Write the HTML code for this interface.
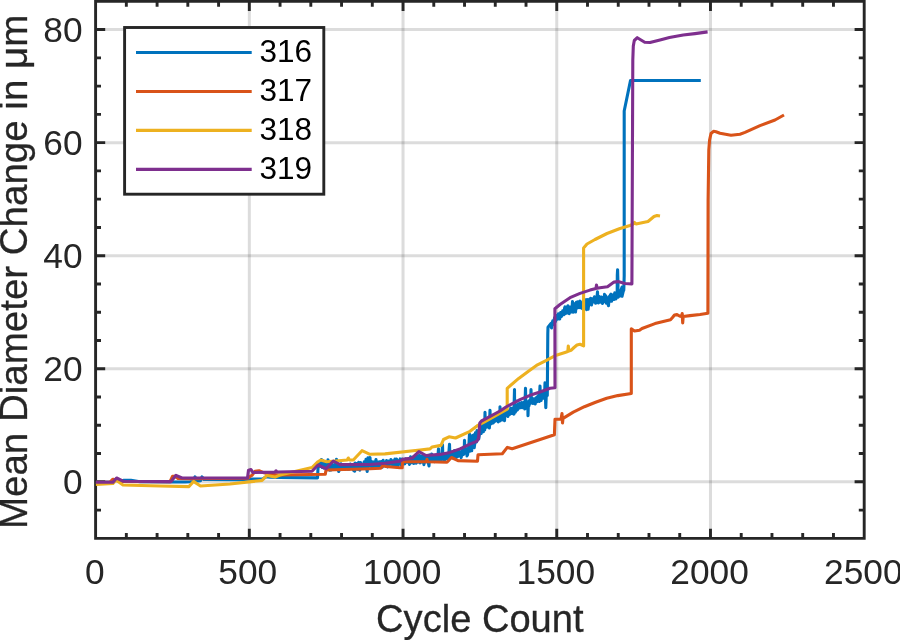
<!DOCTYPE html><html><head><meta charset="utf-8"><style>html,body{margin:0;padding:0;background:#fff;overflow:hidden}svg{display:block}</style></head><body><svg width="900" height="640" viewBox="0 0 900 640">
<rect width="900" height="640" fill="#fff"/>
<path d="M249.32 1.30V538.35M403.04 1.30V538.35M556.76 1.30V538.35M710.48 1.30V538.35" stroke="#262626" stroke-opacity="0.16" stroke-width="3.0" fill="none"/>
<path d="M95.60 481.82H864.20M95.60 368.76H864.20M95.60 255.69H864.20M95.60 142.63H864.20M95.60 29.57H864.20" stroke="#262626" stroke-opacity="0.16" stroke-width="3.0" fill="none"/>
<path d="M95.60 1.30H864.20V538.35H95.60Z" stroke="#262626" stroke-width="2.9" fill="none" stroke-linecap="square"/>
<path d="M126.34 538.35v-5.4M126.34 1.30v5.4M157.09 538.35v-5.4M157.09 1.30v5.4M187.83 538.35v-5.4M187.83 1.30v5.4M218.58 538.35v-5.4M218.58 1.30v5.4M249.32 538.35v-9.6M249.32 1.30v9.6M280.06 538.35v-5.4M280.06 1.30v5.4M310.81 538.35v-5.4M310.81 1.30v5.4M341.55 538.35v-5.4M341.55 1.30v5.4M372.30 538.35v-5.4M372.30 1.30v5.4M403.04 538.35v-9.6M403.04 1.30v9.6M433.78 538.35v-5.4M433.78 1.30v5.4M464.53 538.35v-5.4M464.53 1.30v5.4M495.27 538.35v-5.4M495.27 1.30v5.4M526.02 538.35v-5.4M526.02 1.30v5.4M556.76 538.35v-9.6M556.76 1.30v9.6M587.50 538.35v-5.4M587.50 1.30v5.4M618.25 538.35v-5.4M618.25 1.30v5.4M648.99 538.35v-5.4M648.99 1.30v5.4M679.74 538.35v-5.4M679.74 1.30v5.4M710.48 538.35v-9.6M710.48 1.30v9.6M741.22 538.35v-5.4M741.22 1.30v5.4M771.97 538.35v-5.4M771.97 1.30v5.4M802.71 538.35v-5.4M802.71 1.30v5.4M833.46 538.35v-5.4M833.46 1.30v5.4M95.60 510.08h5.4M864.20 510.08h-5.4M95.60 481.82h9.6M864.20 481.82h-9.6M95.60 453.55h5.4M864.20 453.55h-5.4M95.60 425.29h5.4M864.20 425.29h-5.4M95.60 397.02h5.4M864.20 397.02h-5.4M95.60 368.76h9.6M864.20 368.76h-9.6M95.60 340.49h5.4M864.20 340.49h-5.4M95.60 312.22h5.4M864.20 312.22h-5.4M95.60 283.96h5.4M864.20 283.96h-5.4M95.60 255.69h9.6M864.20 255.69h-9.6M95.60 227.43h5.4M864.20 227.43h-5.4M95.60 199.16h5.4M864.20 199.16h-5.4M95.60 170.89h5.4M864.20 170.89h-5.4M95.60 142.63h9.6M864.20 142.63h-9.6M95.60 114.36h5.4M864.20 114.36h-5.4M95.60 86.10h5.4M864.20 86.10h-5.4M95.60 57.83h5.4M864.20 57.83h-5.4M95.60 29.57h9.6M864.20 29.57h-9.6" stroke="#262626" stroke-width="2.9" fill="none" stroke-linecap="butt"/>
<g clip-path="url(#c)">
<polyline points="95.7,482.3 112.0,482.3 115.0,480.0 122.0,481.0 124.0,480.2 131.0,480.4 140.0,481.7 172.0,482.0 185.0,482.0 190.0,481.8 193.0,481.5 195.0,476.9 196.5,481.0 200.5,480.6 202.0,476.9 204.0,479.5 240.0,479.8 248.0,479.2 252.0,479.0 263.0,478.8 266.0,476.7 270.0,477.2 280.0,477.5 317.5,477.9 318.0,468.4 319.0,462.6 319.4,465.6 319.3,462.9 320.4,466.3 321.5,459.5 322.2,467.5 322.8,460.6 323.9,468.1 324.6,462.1 325.3,467.2 326.3,463.0 327.4,469.0 328.0,459.9 328.4,466.9 328.4,464.8 329.8,470.2 330.6,465.0 331.3,470.0 332.6,464.6 333.8,467.8 335.2,464.4 336.1,468.1 336.5,459.2 336.9,466.2 337.3,464.3 338.7,471.5 339.4,465.8 340.1,469.7 340.9,463.8 342.0,468.3 342.7,465.1 344.0,468.8 344.8,464.7 345.0,469.4 345.4,466.4 345.9,468.2 346.6,465.1 347.5,469.3 348.6,465.1 349.5,469.1 350.4,464.0 351.2,468.2 352.4,464.9 353.6,470.5 354.7,471.2 355.1,466.7 355.0,463.0 355.9,468.9 356.7,463.5 358.0,469.3 358.7,462.2 359.8,470.1 360.6,462.6 361.2,468.1 361.9,464.7 362.9,467.4 364.2,461.8 365.4,468.3 366.0,459.4 366.4,466.4 366.0,464.4 367.2,471.5 368.0,457.7 368.4,466.7 368.2,461.9 369.6,466.1 370.0,457.6 370.4,463.6 370.7,461.1 371.9,468.1 372.8,461.7 374.1,466.9 375.4,461.9 376.0,459.6 376.4,464.6 376.3,467.4 377.0,461.7 378.3,467.7 379.4,461.8 380.7,465.7 381.3,461.5 382.1,467.3 383.2,460.3 383.8,465.9 384.6,462.4 385.7,466.1 386.6,460.6 387.5,466.9 388.8,461.2 389.7,464.6 390.9,459.5 392.3,464.7 393.3,460.9 394.2,465.5 395.0,459.0 396.0,464.5 396.6,459.1 397.5,466.6 398.5,460.9 399.2,464.2 400.2,458.9 401.4,465.5 402.2,459.1 402.8,463.9 403.6,459.6 404.7,463.8 405.9,458.9 407.2,462.2 408.4,459.4 409.5,464.4 410.6,456.9 411.9,462.8 412.7,457.2 413.8,463.4 415.1,456.1 416.2,463.3 417.5,456.2 418.2,462.0 419.4,455.4 420.0,462.9 420.9,456.1 421.6,462.0 422.9,456.3 423.9,464.6 424.9,457.4 426.0,461.8 427.1,457.2 428.3,462.8 429.0,465.9 429.4,458.9 429.6,455.1 430.7,460.6 431.7,454.0 432.7,461.2 433.7,456.5 434.4,461.6 435.8,455.2 436.7,460.4 438.0,455.3 438.5,448.9 438.9,457.9 438.8,460.6 440.2,457.6 440.8,460.3 441.9,456.4 442.5,444.9 442.9,457.9 443.0,459.4 443.7,455.3 444.5,460.2 445.4,455.1 446.1,458.8 447.2,454.2 448.3,460.1 449.5,444.4 449.9,456.4 449.5,452.7 450.4,457.8 451.1,451.7 451.9,457.2 452.7,453.9 453.6,458.3 454.5,450.5 455.7,458.0 456.4,451.6 457.4,456.8 458.0,451.5 459.0,456.0 459.8,451.5 461.2,457.6 462.5,450.0 463.4,454.6 464.3,447.3 464.5,440.2 464.9,450.2 465.6,453.1 466.8,448.8 467.0,455.9 467.4,451.9 467.5,455.0 468.8,446.6 469.5,434.0 469.9,449.0 469.9,451.3 470.9,444.0 471.0,439.4 471.4,447.4 471.7,450.8 472.5,435.5 472.9,446.5 472.9,442.2 474.0,434.9 474.4,444.9 474.2,447.7 475.4,439.4 475.5,432.6 475.9,440.6 476.6,441.8 477.0,430.6 477.4,439.6 477.6,437.4 478.7,438.9 480.1,430.1 481.2,433.5 482.0,423.7 482.4,429.7 482.1,425.8 483.3,431.8 483.9,425.0 484.7,430.0 485.0,412.4 485.4,427.4 485.6,424.7 486.9,427.2 488.3,420.7 489.4,427.9 490.0,410.2 490.4,424.2 490.6,420.6 491.3,423.7 492.3,415.8 493.3,422.9 494.2,418.1 495.2,421.2 496.0,417.9 496.7,420.1 497.6,414.5 498.2,421.9 498.9,413.8 499.9,421.0 500.0,406.8 500.4,416.8 500.9,412.7 501.9,419.9 502.9,414.0 503.9,417.3 504.5,420.7 504.9,414.7 504.6,412.1 505.6,415.7 506.5,410.1 507.9,416.5 508.7,410.9 509.9,414.4 510.7,408.1 511.8,413.5 512.6,408.4 513.9,414.1 514.5,389.5 514.6,408.0 515.0,400.0 514.9,410.5 514.7,406.8 515.4,412.1 516.5,405.4 517.4,410.1 518.3,403.9 519.0,408.2 520.1,403.0 521.0,407.7 521.9,402.6 522.8,407.8 524.1,402.3 524.8,409.0 525.5,388.2 525.9,405.2 525.8,401.5 526.7,408.1 527.8,401.9 528.0,415.8 528.4,403.8 529.0,405.7 529.7,400.2 530.6,403.3 531.0,389.6 531.4,400.6 531.6,397.8 533.0,403.4 533.8,398.8 535.2,403.9 536.1,397.8 537.0,401.7 538.0,395.8 539.3,401.4 540.0,386.0 540.4,398.0 540.5,394.6 541.1,400.5 542.2,393.6 543.4,398.2 544.6,394.5 545.0,382.9 545.4,395.9 545.8,407.6 546.2,396.6 546.0,397.3 546.7,392.5 547.3,395.5 547.8,333.5 548.0,327.2 551.0,323.5 551.5,327.9 552.8,320.7 553.8,324.3 554.5,317.8 555.5,321.6 556.4,315.6 557.3,319.2 558.4,313.8 559.7,319.0 560.6,312.6 561.5,316.5 562.7,310.7 563.8,314.7 564.6,308.1 565.0,306.9 565.4,310.9 565.3,313.8 566.4,307.0 567.3,312.9 568.0,305.9 568.4,309.9 568.5,306.9 569.2,313.6 570.5,307.1 571.8,312.0 572.5,301.6 573.1,312.3 574.5,303.8 575.5,312.0 576.4,302.3 577.2,308.0 577.9,301.7 578.7,307.4 579.4,302.4 580.0,301.1 580.4,305.1 580.2,307.8 581.2,302.5 582.5,308.8 583.4,300.6 584.5,306.0 585.4,299.7 586.5,309.6 587.3,299.5 588.1,309.3 589.2,299.7 590.0,298.9 590.4,301.9 590.1,304.0 590.7,298.4 591.5,305.0 592.6,298.8 593.5,302.0 594.5,296.8 595.6,303.3 596.9,298.6 597.5,291.8 597.9,300.8 598.2,302.9 599.3,296.5 600.2,302.1 601.5,297.1 602.5,303.4 603.5,297.3 604.2,301.5 604.5,294.4 604.9,298.4 605.5,295.4 606.2,303.1 607.5,298.1 608.3,305.0 608.5,305.7 608.9,300.7 608.9,296.5 609.8,301.3 610.4,295.0 611.0,294.2 611.4,298.2 611.6,301.3 612.7,295.1 614.0,299.5 614.8,292.7 615.9,299.0 617.2,291.6 617.3,275.4 617.6,269.9 618.0,284.9 617.7,294.4 618.0,297.2 618.8,291.1 619.9,296.1 620.9,290.1 622.0,287.2 622.4,293.2 622.0,296.3 623.2,291.3 623.8,290.0 624.2,276.0 624.2,111.0 630.5,80.5 700.8,80.5" fill="none" stroke="#0072bd" stroke-width="3.1" stroke-linejoin="round" stroke-linecap="butt"/>
<polyline points="95.7,482.2 110.0,482.2 113.0,479.2 116.0,480.5 120.0,481.5 170.0,481.6 172.5,476.3 175.0,476.2 178.0,478.5 190.0,478.7 248.0,478.3 250.0,476.3 252.0,475.4 255.0,471.3 259.0,470.8 263.0,472.5 270.0,474.2 280.0,475.0 325.3,474.3 326.0,470.0 370.0,468.8 380.6,468.3 383.0,465.5 386.0,466.5 400.0,467.8 402.2,467.8 402.5,461.8 426.5,461.8 427.0,459.3 427.5,461.8 447.0,462.2 451.5,457.5 458.0,460.6 477.5,461.2 478.0,454.8 502.3,453.8 507.3,447.4 512.2,448.8 554.4,434.7 555.0,419.2 561.0,419.2 562.0,413.5 562.5,423.0 563.0,418.3 563.9,417.8 573.3,412.2 584.4,406.7 595.6,402.2 606.7,398.3 617.8,395.6 631.3,393.5 631.3,328.8 634.5,331.0 639.5,330.2 642.0,328.5 655.0,323.6 670.5,319.7 672.5,317.5 674.5,315.0 677.0,314.6 679.5,316.0 681.5,316.6 682.2,313.6 682.7,323.0 683.2,316.5 690.0,315.6 700.0,314.5 707.9,313.3 708.1,200.0 708.8,150.0 709.6,140.0 711.0,133.5 713.5,131.3 716.0,131.8 720.0,133.3 731.0,135.2 740.0,134.2 745.0,132.4 760.0,125.6 775.0,120.0 784.0,115.0" fill="none" stroke="#d95319" stroke-width="3.1" stroke-linejoin="round" stroke-linecap="butt"/>
<polyline points="95.7,484.5 113.0,483.5 116.0,480.0 123.0,485.0 160.0,486.0 189.0,486.6 193.5,481.4 200.5,486.0 230.0,484.0 262.0,480.4 267.0,475.4 275.0,477.1 280.0,475.0 312.0,467.5 318.0,461.7 320.7,460.0 326.7,461.7 347.3,460.0 348.3,458.0 349.5,460.0 353.3,460.0 362.0,450.7 370.0,454.3 385.0,453.9 420.0,450.0 430.0,448.9 432.0,447.0 441.0,445.4 443.5,439.5 449.0,436.8 455.5,438.0 470.0,431.3 477.0,425.9 485.0,421.6 507.2,409.2 507.2,388.3 518.7,378.4 528.1,371.4 537.5,364.8 546.9,360.1 556.2,355.2 565.0,352.5 567.8,351.6 568.3,346.0 568.9,351.0 571.0,350.3 574.0,347.5 577.0,345.0 580.0,344.3 583.6,345.8 583.6,248.0 587.0,244.0 595.0,239.5 607.0,233.5 620.0,228.5 630.0,225.5 633.0,224.2 634.5,222.5 636.0,224.0 648.0,221.5 654.0,216.5 657.0,215.5 660.0,216.0" fill="none" stroke="#edb120" stroke-width="3.1" stroke-linejoin="round" stroke-linecap="butt"/>
<polyline points="95.7,482.3 113.0,482.3 116.6,478.0 123.0,481.2 171.0,481.6 176.0,475.3 182.0,478.0 247.5,478.0 248.5,470.3 251.0,469.6 253.0,472.5 275.0,472.1 276.0,470.8 277.0,472.0 312.0,471.3 318.0,465.0 326.0,468.7 333.3,461.0 340.0,464.6 370.0,464.5 385.0,463.3 400.0,461.3 402.5,459.4 412.2,458.0 418.9,451.7 426.0,455.5 440.0,454.4 450.0,452.4 460.0,448.9 470.0,444.2 477.0,441.1 478.5,438.5 479.8,423.0 481.5,421.0 486.0,418.7 500.0,411.0 506.0,407.0 510.0,404.8 520.0,399.7 530.0,395.3 540.0,392.0 550.0,388.2 555.0,387.8 554.9,308.7 560.0,304.5 570.0,297.7 580.0,293.4 590.0,290.1 596.0,288.5 596.5,285.0 597.0,288.3 600.0,287.7 607.5,286.8 614.0,282.1 618.0,281.6 625.0,283.5 631.9,284.0 632.8,60.0 633.3,46.0 634.3,40.5 637.3,37.7 644.7,42.3 650.0,42.5 660.0,40.0 669.4,37.6 683.2,35.0 695.0,33.6 707.6,31.9" fill="none" stroke="#7e2f8e" stroke-width="3.1" stroke-linejoin="round" stroke-linecap="butt"/>
</g>
<defs><clipPath id="c"><rect x="95.6" y="1.3" width="768.6" height="537.0500000000001"/></clipPath></defs>
<text x="82.6" y="494.02" font-family="&apos;Liberation Sans&apos;, Arial, Helvetica, sans-serif" font-size="35.3" fill="#262626" text-anchor="end">0</text>
<text x="82.6" y="380.96" font-family="&apos;Liberation Sans&apos;, Arial, Helvetica, sans-serif" font-size="35.3" fill="#262626" text-anchor="end">20</text>
<text x="82.6" y="267.89" font-family="&apos;Liberation Sans&apos;, Arial, Helvetica, sans-serif" font-size="35.3" fill="#262626" text-anchor="end">40</text>
<text x="82.6" y="154.83" font-family="&apos;Liberation Sans&apos;, Arial, Helvetica, sans-serif" font-size="35.3" fill="#262626" text-anchor="end">60</text>
<text x="82.6" y="41.77" font-family="&apos;Liberation Sans&apos;, Arial, Helvetica, sans-serif" font-size="35.3" fill="#262626" text-anchor="end">80</text>
<text x="94.70" y="583.9" font-family="&apos;Liberation Sans&apos;, Arial, Helvetica, sans-serif" font-size="35.3" fill="#262626" text-anchor="middle">0</text>
<text x="247.72" y="583.9" font-family="&apos;Liberation Sans&apos;, Arial, Helvetica, sans-serif" font-size="35.3" fill="#262626" text-anchor="middle">500</text>
<text x="402.14" y="583.9" font-family="&apos;Liberation Sans&apos;, Arial, Helvetica, sans-serif" font-size="35.3" fill="#262626" text-anchor="middle">1000</text>
<text x="555.86" y="583.9" font-family="&apos;Liberation Sans&apos;, Arial, Helvetica, sans-serif" font-size="35.3" fill="#262626" text-anchor="middle">1500</text>
<text x="709.58" y="583.9" font-family="&apos;Liberation Sans&apos;, Arial, Helvetica, sans-serif" font-size="35.3" fill="#262626" text-anchor="middle">2000</text>
<text x="863.30" y="583.9" font-family="&apos;Liberation Sans&apos;, Arial, Helvetica, sans-serif" font-size="35.3" fill="#262626" text-anchor="middle">2500</text>
<text x="479.8" y="632" font-family="&apos;Liberation Sans&apos;, Arial, Helvetica, sans-serif" font-size="38.1" fill="#262626" stroke="#262626" stroke-width="0.3" text-anchor="middle">Cycle Count</text>
<text transform="translate(27.1,271.9) rotate(-90)" font-family="&apos;Liberation Sans&apos;, Arial, Helvetica, sans-serif" font-size="38.5" fill="#262626" stroke="#262626" stroke-width="0.3" text-anchor="middle">Mean Diameter Change in μm</text>
<rect x="124.6" y="27.5" width="199.2" height="166.7" fill="#fff" stroke="#262626" stroke-width="2.9"/>
<line x1="136" y1="52.50" x2="251.7" y2="52.50" stroke="#0072bd" stroke-width="3.1"/>
<text x="259.5" y="61.70" font-family="&apos;Liberation Sans&apos;, Arial, Helvetica, sans-serif" font-size="31.5" fill="#000">316</text>
<line x1="136" y1="91.45" x2="251.7" y2="91.45" stroke="#d95319" stroke-width="3.1"/>
<text x="259.5" y="100.65" font-family="&apos;Liberation Sans&apos;, Arial, Helvetica, sans-serif" font-size="31.5" fill="#000">317</text>
<line x1="136" y1="130.40" x2="251.7" y2="130.40" stroke="#edb120" stroke-width="3.1"/>
<text x="259.5" y="139.60" font-family="&apos;Liberation Sans&apos;, Arial, Helvetica, sans-serif" font-size="31.5" fill="#000">318</text>
<line x1="136" y1="169.35" x2="251.7" y2="169.35" stroke="#7e2f8e" stroke-width="3.1"/>
<text x="259.5" y="178.55" font-family="&apos;Liberation Sans&apos;, Arial, Helvetica, sans-serif" font-size="31.5" fill="#000">319</text>
</svg></body></html>
